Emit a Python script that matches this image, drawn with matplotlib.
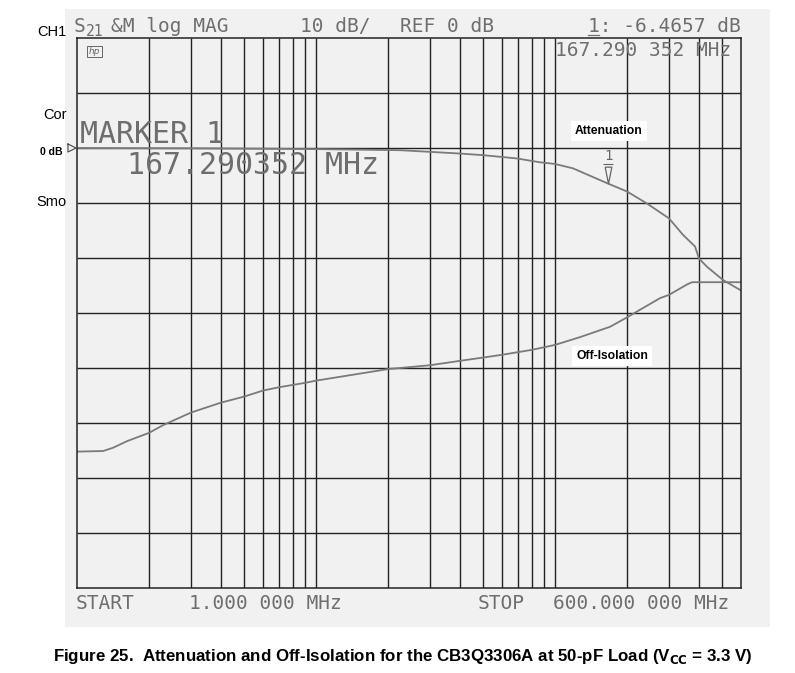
import matplotlib.pyplot as plt
from matplotlib.patches import Rectangle
from matplotlib.path import Path
from matplotlib.transforms import offset_copy

# traces (MHz, dB)
atten_freq = [1, 3, 10, 22.5, 30, 39.7, 50, 69.3, 86.5, 100, 118.9, 167.3,
              200, 242.6, 300, 343.3, 385.2, 400.4, 432.5, 504.6, 600]
atten_db = [0.0, -0.05, -0.2, -0.4, -0.7, -1.0, -1.3, -1.9, -2.6, -2.9, -3.7,
            -6.5, -7.9, -10.1, -12.8, -15.8, -17.9, -20.1, -21.6, -24.0, -25.9]

iso_freq = [1, 1.285, 1.415, 1.62, 2, 2.29, 3, 4, 5, 6, 7, 9, 10, 20, 30, 40,
            50, 60, 80, 100, 127, 170, 200, 227, 275, 300, 357, 375, 600]
iso_db = [-55.2, -55.1, -54.5, -53.3, -51.8, -50.4, -48.1, -46.3, -45.2, -44.1,
          -43.5, -42.7, -42.3, -40.2, -39.5, -38.7, -38.1, -37.6, -36.7, -35.8,
          -34.4, -32.5, -30.8, -29.4, -27.3, -26.7, -24.8, -24.4, -24.4]

marker_freq = 167.290352
marker_db = -6.4657

grid_freq = [2, 3, 4, 5, 6, 7, 8, 9, 10, 20, 30, 40, 50, 60, 70, 80, 90, 100,
             200, 300, 400, 500]
grid_db = [10, 0, -10, -20, -30, -40, -50, -60, -70]

W, H = 795, 673
fig = plt.figure(figsize=(W / 100, H / 100), dpi=100)

# scanned paper background
bg = fig.add_axes([0, 0, 1, 1], zorder=0)
bg.set_xlim(0, W)
bg.set_ylim(H, 0)
bg.axis('off')
bg.add_patch(Rectangle((65, 9), 705, 618, facecolor='#f1f1f1', edgecolor='none'))

# analyzer graticule
L, R, T, B = 77, 741, 38, 588
ax = fig.add_axes([L / W, (H - B) / H, (R - L) / W, (B - T) / H], zorder=1)
ax.patch.set_alpha(0)
ax.set_xscale('log')
ax.set_xlim(1, 600)
ax.set_ylim(-80, 20)
ax.set_xticks([])
ax.set_yticks([])
ax.minorticks_off()
for s in ax.spines.values():
    s.set_linewidth(1.1)
    s.set_color('#222222')
ax.vlines(grid_freq, -80, 20, color='#222222', lw=1.0)
ax.hlines(grid_db, 1, 600, color='#222222', lw=1.0)

trace = '#7a7a7a'
ax.plot(atten_freq, atten_db, color=trace, lw=1.3)
ax.plot(iso_freq, iso_db, color=trace, lw=1.3)

# marker triangle sitting on the attenuation trace
tri = Path([(-0.4, 1), (0.4, 1), (0, -1), (-0.4, 1)])
tri_tr = offset_copy(ax.transData, fig=fig, y=8.5, units='dots')
ax.plot([marker_freq], [marker_db], marker=tri, ms=12, mfc='none',
        mec='#666666', mew=0.9, transform=tri_tr)
ax.annotate('1', xy=(marker_freq, marker_db), xytext=(0, 21),
            textcoords='offset pixels', ha='center', va='bottom',
            color='#666666', fontsize=10, family='DejaVu Sans Mono')
ul_tr = offset_copy(ax.transData, fig=fig, y=19.5, units='dots')
ax.plot([marker_freq], [marker_db], marker='_', ms=7, mec='#666666',
        mew=0.8, transform=ul_tr)

# overlay texts in pixel coordinates
ov = fig.add_axes([0, 0, 1, 1], zorder=2)
ov.set_xlim(0, W)
ov.set_ylim(H, 0)
ov.axis('off')

mono = dict(family='DejaVu Sans Mono', color='#6e6e6e')
ov.text(74, 32, 'S', fontsize=14, **mono)
ov.text(86, 36, '21', fontsize=10.5, **mono)
ov.text(111, 32, '&M log MAG', fontsize=14, **mono)
ov.text(300, 32, '10 dB/', fontsize=14, **mono)
ov.text(400, 32, 'REF 0 dB', fontsize=14, **mono)
ov.text(588, 32, '1: -6.4657 dB', fontsize=14, **mono)
ov.plot([588, 599], [34.5, 34.5], color='#6e6e6e', lw=0.9)
ov.text(555, 56, '167.290 352 MHz', fontsize=14, **mono)
ov.text(80, 143, 'MARKER 1', fontsize=21.5, **mono)
ov.text(127, 174, '167.290352 MHz', fontsize=21.5, **mono)
ov.text(76, 609, 'START', fontsize=14, **mono)
ov.text(189, 609, '1.000 000 MHz', fontsize=14, **mono)
ov.text(478, 609, 'STOP', fontsize=14, **mono)
ov.text(553, 609, '600.000 000 MHz', fontsize=14, **mono)

ov.text(94.5, 51.5, 'hp', fontsize=6.5, style='italic', color='#666666',
        ha='center', va='center',
        bbox=dict(boxstyle='square,pad=0.15', fc='none', ec='#666666', lw=0.7))

# channel annotations at left
sans = dict(family='Liberation Sans', color='black')
ov.text(37, 36, 'CH1', fontsize=10.5, **sans)
ov.text(43, 119, 'Cor', fontsize=10.5, **sans)
ov.text(36, 206, 'Smo', fontsize=10.5, **sans)
ov.text(40, 155, '0 dB', fontsize=7.5, weight='bold', **sans)
ov.plot([68, 76, 68, 68], [144, 148, 152, 144], color='#444444', lw=0.8)

# trace labels on white patches
lbl = dict(family='Liberation Sans', weight='bold', fontsize=8.7,
           ha='center', va='center', color='black')
ov.text(609, 131, 'Attenuation', **lbl,
        bbox=dict(boxstyle='square,pad=0.35', fc='white', ec='none'))
ov.text(612, 356, 'Off-Isolation', **lbl,
        bbox=dict(boxstyle='square,pad=0.3', fc='white', ec='none'))

# figure caption
ov.text(403, 657,
        r'Figure 25.  Attenuation and Off-Isolation for the CB3Q3306A at 50-pF Load (V$_{\mathbf{CC}}$ = 3.3 V)',
        family='Liberation Sans', weight='bold', fontsize=12.2,
        ha='center', va='center', color='black')

fig.savefig('out.png', dpi=100)
